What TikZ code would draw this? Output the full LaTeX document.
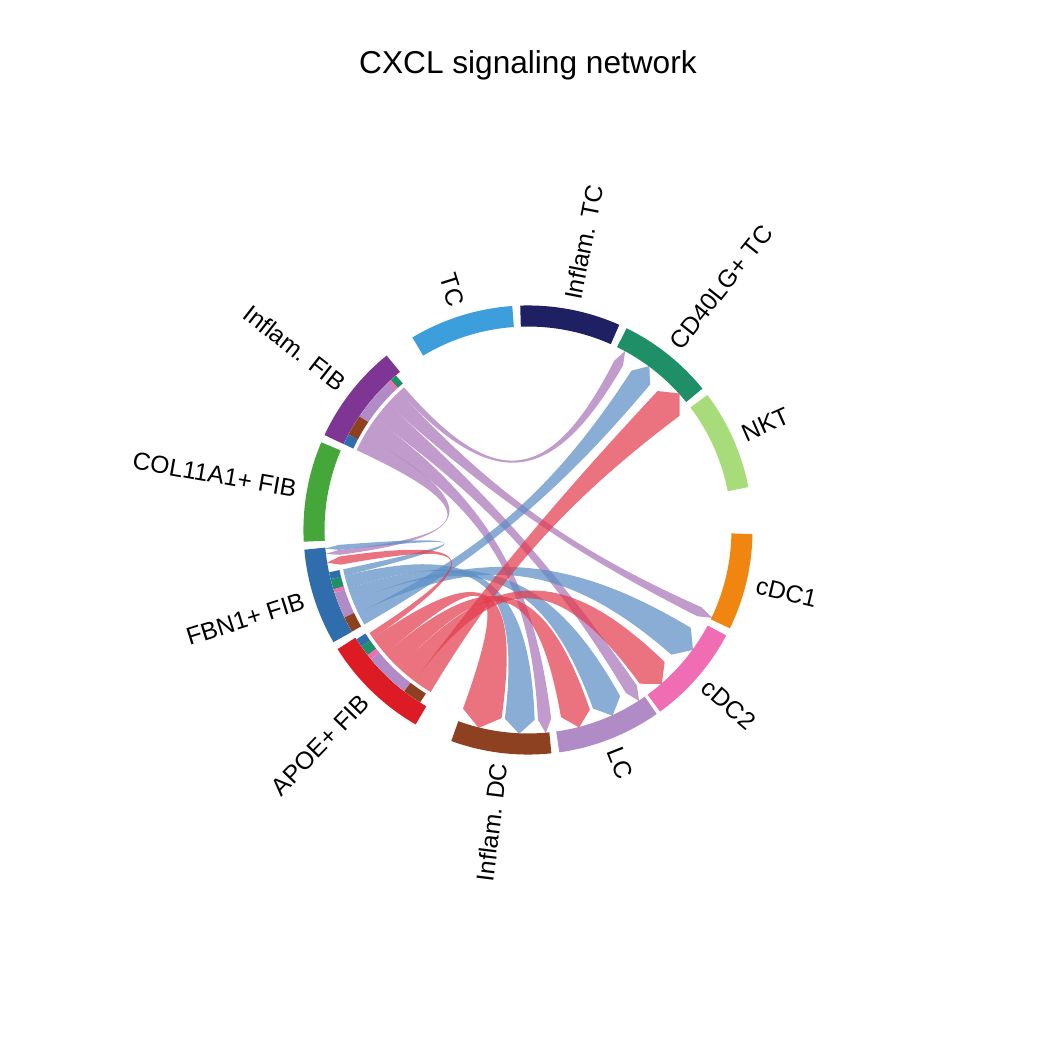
\documentclass[tikz,border=0pt]{standalone}
\usepackage{fontspec}
\setmainfont{Liberation Sans}
\definecolor{cTC}{HTML}{3C9FDB}
\definecolor{cITC}{HTML}{1F1F63}
\definecolor{cCD}{HTML}{1E8F66}
\definecolor{cNKT}{HTML}{A8DC7A}
\definecolor{cDCa}{HTML}{F0850F}
\definecolor{cDCb}{HTML}{F06DB4}
\definecolor{cLC}{HTML}{B08BC6}
\definecolor{cIDC}{HTML}{8E4120}
\definecolor{cAPOE}{HTML}{DD1B24}
\definecolor{cFBN}{HTML}{2F6DAD}
\definecolor{cCOL}{HTML}{45A63A}
\definecolor{cIFIB}{HTML}{7E3594}
\definecolor{rP}{HTML}{A874B8}
\definecolor{rB}{HTML}{5B8EC4}
\definecolor{rR}{HTML}{E23D4E}
\tikzset{lbl/.style={font=\fontsize{14}{16}\selectfont}}
\newcommand\segR[4]{\draw[#1,line width=12] (#2:214) arc[start angle=#2,end angle=#3,radius=214];
    \node[lbl,anchor=west,rotate={(#2+#3)/2}] at ({(#2+#3)/2}:229) {#4};}
\newcommand\segL[4]{\draw[#1,line width=12] (#2:214) arc[start angle=#2,end angle=#3,radius=214];
    \node[lbl,anchor=east,rotate={(#2+#3)/2-180}] at ({(#2+#3)/2}:229) {#4};}
\newcommand\ibar[3]{\draw[#1,line width=6] (#2:198) arc[start angle=#2,end angle=#3,radius=198];}
\newcommand\chord[5]{\fill[#1,opacity=.72] (#2:189) arc[start angle=#2,end angle=#3,radius=189]
  .. controls (#3:50) and (#4:50) .. (#4:190) -- ({(#4+#5)/2}:204) -- (#5:190)
  .. controls (#5:50) and (#2:50) .. cycle;}
\begin{document}
\begin{tikzpicture}[x=0.02cm,y=0.02cm]
\useasboundingbox (-528,-526) rectangle (528,530);
\node[font=\fontsize{18}{20}\selectfont] (title) at (0,465) {CXCL signaling network};
\segL{cTC}{94}{121}{TC}
\segR{cITC}{66}{92}{Inflam. TC}
\segR{cCD}{39}{64}{CD40LG+ TC}
\segR{cNKT}{11}{37}{NKT}
\segR{cDCa}{-26}{-1}{cDC1}
\segR{cDCb}{-54}{-28}{cDC2}
\segR{cLC}{-82}{-55}{LC}
\segL{cIDC}{-110}{-84}{Inflam. DC}
\segL{cAPOE}{212}{240}{APOE+ FIB}
\segL{cFBN}{185}{210}{FBN1+ FIB}
\segL{cCOL}{157}{183}{COL11A1+ FIB}
\segL{cIFIB}{129}{155}{Inflam. FIB}
% inner bars
\ibar{cCD}{130.5}{132.5}\ibar{cDCb}{132.5}{133.5}\ibar{cLC}{133.5}{146}\ibar{cIDC}{146}{152}\ibar{cFBN}{152}{155}
\ibar{cFBN}{192}{194}\ibar{cCD}{194}{197}\ibar{cDCb}{197}{198}\ibar{cLC}{198}{205.5}\ibar{cIDC}{205.5}{210}
\ibar{cFBN}{212.5}{215}\ibar{cCD}{215}{218}\ibar{cDCb}{218}{219.5}\ibar{cLC}{219.5}{232.5}\ibar{cIDC}{232.5}{238}
% purple chords (Inflam. FIB)
\chord{rP}{131}{133}{60}{63}
\chord{rP}{133}{138}{-27}{-24}
\chord{rP}{138}{144}{-59}{-55}
\chord{rP}{144}{150}{-87}{-83}
\chord{rP}{150}{155}{186}{187.5}
% blue chords (FBN1+ FIB)
\chord{rB}{192}{194}{184.5}{186}
\chord{rB}{194}{198}{-97}{-88}
\chord{rB}{198}{202}{-70}{-61}
\chord{rB}{202}{206}{-41}{-31}
\chord{rB}{206}{210}{50}{57}
% red chords (APOE+ FIB)
\chord{rR}{213}{215}{188}{190.5}
\chord{rR}{215}{221}{-110}{-98}
\chord{rR}{221}{227}{-80}{-71}
\chord{rR}{227}{233}{-54}{-44}
\chord{rR}{233}{239}{37}{47}
\end{tikzpicture}
\end{document}
